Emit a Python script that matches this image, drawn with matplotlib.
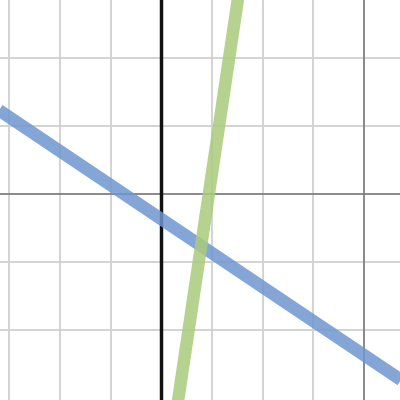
import matplotlib
matplotlib.use("Agg")
import matplotlib.pyplot as plt
import numpy as np

blue_x = [-3.2, 4.8]
blue_y = [1.23, -2.77]
green_x = [0.2, 1.6]
green_y = [-3.7, 3.3]
grid_x = [-3, -2, -1, 1, 2, 3]
grid_y = [-2, -1, 1, 2]

fig = plt.figure(figsize=(4, 4), dpi=100)
ax = fig.add_axes([0, 0, 1, 1])
ax.set_xlim(-3.18, 4.71)
ax.set_ylim(-3.03, 2.85)
for g in grid_x:
    ax.axvline(g, color="#d0d0d0", lw=1.3, zorder=0)
for g in grid_y:
    ax.axhline(g, color="#d0d0d0", lw=1.3, zorder=0)
ax.axhline(0, color="#808080", lw=1.3, zorder=1)
ax.axvline(4, color="#808080", lw=1.3, zorder=1)
ax.axvline(0, color="#111111", lw=2.5, zorder=1)
ax.plot(blue_x, blue_y, color="#6f97d0", lw=9, alpha=0.85, solid_capstyle="butt", zorder=2)
ax.plot(green_x, green_y, color="#aacb7c", lw=9, alpha=0.85, solid_capstyle="butt", zorder=3)
ax.axis("off")
fig.savefig("out.png", dpi=100)
